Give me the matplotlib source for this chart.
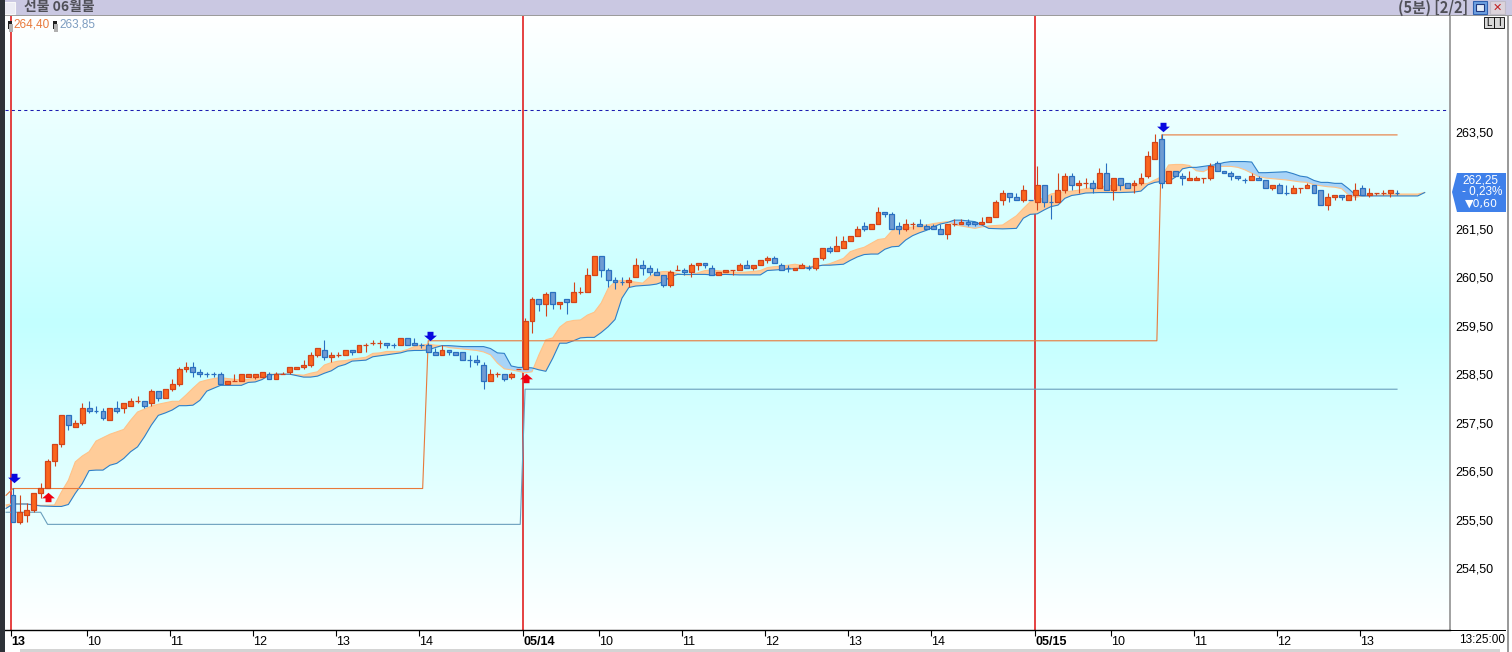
import numpy as np
import matplotlib
matplotlib.use("Agg")
import matplotlib.pyplot as plt
from matplotlib.colors import LinearSegmentedColormap
from matplotlib.patches import Polygon, Rectangle

# 5 minute candles, 05/13 open to 05/15 13:25
opens = [
    256.00, 255.45, 255.60, 255.70, 256.05, 256.15, 256.70, 257.05, 257.65, 257.40,
    257.50, 257.80, 257.75, 257.75, 257.55, 257.80, 257.80, 257.85, 257.95, 257.95,
    257.90, 258.15, 258.00, 258.20, 258.30, 258.60, 258.65, 258.55, 258.50, 258.50,
    258.50, 258.30, 258.35, 258.35, 258.45, 258.45, 258.45, 258.50, 258.40, 258.50,
    258.55, 258.60, 258.65, 258.70, 258.90, 259.00, 258.85, 258.90, 258.90, 259.00,
    258.95, 259.10, 259.15, 259.15, 259.15, 259.10, 259.10, 259.25, 259.15, 259.10,
    259.10, 258.95, 258.90, 259.00, 258.95, 258.95, 258.80, 258.80, 258.70, 258.35,
    258.50, 258.50, 258.45, 258.60, 258.60, 259.60, 260.05, 259.95, 260.20, 259.95,
    260.05, 260.00, 260.20, 260.20, 260.55, 260.95, 260.65, 260.45, 260.40, 260.40,
    260.50, 260.75, 260.70, 260.60, 260.55, 260.35, 260.65, 260.65, 260.60, 260.75,
    260.80, 260.70, 260.55, 260.60, 260.65, 260.65, 260.75, 260.70, 260.75, 260.85,
    260.90, 260.75, 260.70, 260.65, 260.70, 260.70, 260.70, 260.90, 261.10, 261.05,
    261.10, 261.25, 261.35, 261.55, 261.50, 261.60, 261.85, 261.80, 261.55, 261.50,
    261.60, 261.60, 261.55, 261.55, 261.50, 261.40, 261.60, 261.60, 261.65, 261.65,
    261.60, 261.65, 261.75, 262.10, 262.25, 262.15, 262.10, 262.10, 262.05, 262.40,
    262.05, 262.05, 262.30, 262.60, 262.40, 262.45, 262.45, 262.35, 262.65, 262.30,
    262.55, 262.45, 262.40, 262.45, 262.60, 262.95, 263.35, 262.45, 262.70, 262.60,
    262.50, 262.50, 262.55, 262.55, 262.85, 262.70, 262.65, 262.60, 262.50, 262.50,
    262.55, 262.50, 262.35, 262.40, 262.25, 262.25, 262.35, 262.35, 262.40, 262.30,
    262.00, 262.15, 262.20, 262.10, 262.20, 262.35, 262.20, 262.25, 262.25, 262.25,
    262.25,
]
highs = [
    256.15, 256.00, 255.85, 256.05, 256.25, 256.75, 257.05, 257.65, 257.65, 257.55,
    257.90, 257.95, 257.85, 257.80, 257.80, 257.95, 257.90, 258.00, 258.05, 257.95,
    258.20, 258.15, 258.20, 258.40, 258.65, 258.75, 258.75, 258.60, 258.55, 258.55,
    258.55, 258.35, 258.50, 258.50, 258.50, 258.50, 258.55, 258.55, 258.55, 258.55,
    258.65, 258.65, 258.80, 258.95, 259.05, 259.20, 258.95, 258.95, 259.00, 259.00,
    259.10, 259.15, 259.20, 259.20, 259.15, 259.15, 259.25, 259.25, 259.25, 259.15,
    259.15, 259.05, 259.10, 259.00, 258.95, 258.95, 258.90, 258.90, 258.75, 258.60,
    258.55, 258.50, 258.55, 258.60, 259.65, 260.10, 260.05, 260.20, 260.20, 260.00,
    260.05, 260.40, 260.30, 260.70, 260.95, 260.95, 260.70, 260.50, 260.50, 260.50,
    260.90, 260.85, 260.75, 260.70, 260.55, 260.65, 260.75, 260.70, 260.80, 260.80,
    260.80, 260.75, 260.60, 260.65, 260.65, 260.80, 260.85, 260.75, 260.85, 260.95,
    260.95, 260.80, 260.75, 260.70, 260.80, 260.75, 260.90, 261.10, 261.15, 261.35,
    261.35, 261.35, 261.55, 261.65, 261.60, 261.95, 261.85, 261.85, 261.65, 261.70,
    261.65, 261.70, 261.60, 261.60, 261.60, 261.60, 261.70, 261.70, 261.70, 261.65,
    261.75, 261.75, 262.10, 262.30, 262.25, 262.25, 262.40, 262.10, 262.80, 262.40,
    262.20, 262.65, 262.65, 262.65, 262.50, 262.55, 262.50, 262.75, 262.85, 262.55,
    262.55, 262.45, 262.50, 262.65, 263.10, 263.45, 263.45, 262.70, 262.70, 262.65,
    262.70, 262.60, 262.55, 262.85, 262.90, 262.70, 262.70, 262.60, 262.55, 262.65,
    262.60, 262.50, 262.40, 262.45, 262.40, 262.40, 262.35, 262.45, 262.40, 262.30,
    262.25, 262.20, 262.20, 262.20, 262.45, 262.40, 262.35, 262.25, 262.30, 262.30,
    262.30,
]
lows = [
    255.45, 255.40, 255.45, 255.65, 255.95, 256.15, 256.60, 257.00, 257.35, 257.40,
    257.45, 257.70, 257.70, 257.55, 257.55, 257.70, 257.70, 257.85, 257.90, 257.80,
    257.85, 257.95, 258.00, 258.15, 258.25, 258.55, 258.45, 258.45, 258.45, 258.45,
    258.30, 258.30, 258.35, 258.35, 258.45, 258.40, 258.45, 258.40, 258.40, 258.50,
    258.50, 258.60, 258.60, 258.65, 258.85, 258.80, 258.75, 258.85, 258.90, 258.90,
    258.95, 258.95, 259.10, 259.05, 259.05, 259.05, 259.10, 259.10, 259.10, 259.05,
    258.95, 258.90, 258.90, 258.90, 258.90, 258.80, 258.65, 258.70, 258.20, 258.35,
    258.45, 258.35, 258.40, 258.60, 258.60, 259.35, 259.80, 259.70, 259.85, 259.85,
    259.75, 260.00, 260.15, 260.20, 260.55, 260.50, 260.30, 260.25, 260.35, 260.30,
    260.50, 260.55, 260.55, 260.55, 260.30, 260.30, 260.65, 260.55, 260.50, 260.65,
    260.70, 260.55, 260.55, 260.60, 260.55, 260.65, 260.70, 260.65, 260.75, 260.80,
    260.80, 260.65, 260.60, 260.65, 260.70, 260.65, 260.65, 260.85, 261.00, 261.05,
    261.10, 261.25, 261.35, 261.45, 261.50, 261.60, 261.75, 261.50, 261.40, 261.45,
    261.50, 261.55, 261.50, 261.50, 261.40, 261.30, 261.55, 261.60, 261.55, 261.55,
    261.60, 261.65, 261.75, 262.00, 262.05, 262.10, 262.05, 262.10, 261.90, 261.95,
    261.70, 262.05, 262.25, 262.30, 262.25, 262.35, 262.25, 262.35, 262.30, 262.10,
    262.30, 262.35, 262.25, 262.40, 262.55, 262.95, 262.35, 262.45, 262.60, 262.40,
    262.50, 262.50, 262.45, 262.50, 262.70, 262.65, 262.50, 262.50, 262.45, 262.50,
    262.50, 262.35, 262.30, 262.25, 262.20, 262.25, 262.25, 262.35, 262.25, 262.00,
    261.90, 262.10, 262.10, 262.10, 262.10, 262.20, 262.15, 262.20, 262.20, 262.15,
    262.20,
]
closes = [
    255.45, 255.65, 255.70, 256.05, 256.15, 256.70, 257.05, 257.65, 257.45, 257.50,
    257.80, 257.75, 257.75, 257.60, 257.80, 257.75, 257.90, 257.95, 257.95, 257.85,
    258.15, 258.00, 258.20, 258.30, 258.60, 258.65, 258.55, 258.50, 258.50, 258.50,
    258.30, 258.35, 258.35, 258.50, 258.50, 258.50, 258.55, 258.40, 258.50, 258.50,
    258.65, 258.65, 258.70, 258.90, 259.05, 258.85, 258.90, 258.90, 259.00, 258.95,
    259.10, 259.10, 259.15, 259.15, 259.10, 259.10, 259.25, 259.10, 259.10, 259.10,
    258.95, 258.90, 259.00, 258.95, 258.90, 258.80, 258.80, 258.75, 258.35, 258.50,
    258.50, 258.40, 258.50, 258.60, 259.60, 260.05, 259.95, 260.15, 259.95, 260.00,
    260.00, 260.20, 260.20, 260.55, 260.95, 260.65, 260.45, 260.40, 260.40, 260.45,
    260.75, 260.70, 260.60, 260.55, 260.35, 260.60, 260.65, 260.60, 260.75, 260.80,
    260.75, 260.55, 260.60, 260.65, 260.65, 260.75, 260.70, 260.75, 260.85, 260.90,
    260.80, 260.65, 260.70, 260.70, 260.75, 260.70, 260.90, 261.10, 261.05, 261.15,
    261.25, 261.35, 261.50, 261.50, 261.60, 261.85, 261.80, 261.50, 261.50, 261.60,
    261.60, 261.55, 261.50, 261.50, 261.40, 261.60, 261.60, 261.65, 261.60, 261.60,
    261.65, 261.75, 262.05, 262.25, 262.15, 262.10, 262.30, 262.10, 262.40, 262.05,
    262.05, 262.30, 262.60, 262.40, 262.45, 262.45, 262.35, 262.65, 262.30, 262.55,
    262.40, 262.35, 262.45, 262.55, 263.00, 263.30, 262.45, 262.70, 262.60, 262.55,
    262.55, 262.55, 262.55, 262.80, 262.70, 262.65, 262.60, 262.55, 262.50, 262.60,
    262.50, 262.35, 262.40, 262.25, 262.25, 262.35, 262.35, 262.40, 262.25, 262.00,
    262.15, 262.20, 262.15, 262.20, 262.30, 262.20, 262.25, 262.25, 262.25, 262.30,
    262.25,
]
# candles with open == close that were painted blue
flat_down = [12, 28, 29, 55, 59, 66, 88, 112, 115, 147, 150, 178, 184, 200]

# cloud, read at its corners
cloud_idx = [
    -1, 0, 2, 4, 6, 7, 8, 9, 10, 11, 12, 13, 14, 15, 16, 17, 18, 19, 20, 21,
    22, 23, 24, 25, 26, 27, 28, 29, 30, 31, 33, 34, 35, 36, 37, 38, 40, 42, 43, 44,
    45, 46, 47, 48, 49, 50, 51, 52, 53, 54, 56, 57, 58, 59, 60, 61, 62, 63, 65, 67,
    68, 69, 70, 71, 72, 73, 74, 75, 76, 77, 78, 79, 80, 81, 82, 83, 84, 85, 86, 87,
    88, 89, 90, 91, 92, 93, 94, 95, 96, 97, 98, 100, 101, 103, 105, 107, 108, 109, 110, 111,
    113, 115, 117, 118, 120, 121, 122, 123, 124, 125, 126, 127, 128, 129, 130, 131, 132, 133, 134, 135,
    136, 137, 139, 140, 141, 143, 145, 146, 147, 148, 149, 150, 151, 152, 153, 154, 155, 157, 160, 162,
    163, 164, 165, 166, 167, 168, 169, 170, 171, 172, 173, 174, 175, 176, 177, 178, 179, 180, 181, 184,
    185, 186, 187, 188, 189, 190, 191, 192, 193, 194, 195, 196, 198, 200, 203, 204,
]
span_a = [
    255.80, 255.83, 255.82, 255.79, 255.80, 256.07, 256.31, 256.69, 256.81, 256.90,
    257.12, 257.19, 257.26, 257.31, 257.36, 257.55, 257.72, 257.78, 257.84, 257.88,
    257.91, 257.94, 257.94, 258.07, 258.21, 258.34, 258.38, 258.41, 258.43, 258.41,
    258.38, 258.39, 258.43, 258.45, 258.50, 258.50, 258.50, 258.48, 258.52, 258.55,
    258.69, 258.74, 258.77, 258.78, 258.81, 258.83, 258.85, 258.93, 258.94, 258.97,
    258.97, 259.01, 259.07, 259.10, 259.12, 259.10, 259.09, 259.05, 259.02, 258.99,
    258.96, 258.90, 258.73, 258.61, 258.59, 258.56, 258.53, 258.55, 258.90, 259.21,
    259.25, 259.47, 259.58, 259.61, 259.62, 259.72, 259.78, 259.97, 260.27, 260.41,
    260.44, 260.42, 260.40, 260.38, 260.51, 260.60, 260.62, 260.62, 260.58, 260.55,
    260.55, 260.64, 260.65, 260.62, 260.60, 260.62, 260.64, 260.70, 260.72, 260.73,
    260.77, 260.72, 260.75, 260.78, 260.89, 261.03, 261.08, 261.12, 261.20, 261.28,
    261.30, 261.46, 261.52, 261.52, 261.54, 261.57, 261.58, 261.61, 261.63, 261.65,
    261.59, 261.56, 261.51, 261.54, 261.56, 261.58, 261.77, 261.92, 262.06, 262.11,
    262.13, 262.22, 262.25, 262.27, 262.28, 262.30, 262.33, 262.37, 262.41, 262.41,
    262.43, 262.44, 262.51, 262.58, 262.82, 262.83, 262.83, 262.81, 262.70, 262.68,
    262.75, 262.79, 262.79, 262.79, 262.77, 262.72, 262.65, 262.58, 262.55, 262.51,
    262.49, 262.47, 262.46, 262.41, 262.39, 262.37, 262.36, 262.33, 262.20, 262.15,
    262.18, 262.19, 262.20, 262.22, 262.22, 262.25,
]
span_b = [
    255.73, 255.82, 255.82, 255.78, 255.77, 255.77, 255.81, 256.04, 256.24, 256.51,
    256.52, 256.52, 256.62, 256.66, 256.76, 256.90, 257.00, 257.21, 257.45, 257.65,
    257.70, 257.76, 257.85, 257.85, 257.86, 257.96, 258.15, 258.21, 258.27, 258.27,
    258.27, 258.33, 258.34, 258.39, 258.48, 258.50, 258.50, 258.44, 258.44, 258.46,
    258.52, 258.57, 258.66, 258.70, 258.77, 258.78, 258.79, 258.86, 258.88, 258.90,
    258.94, 258.98, 258.99, 258.99, 259.00, 259.05, 259.09, 259.09, 259.07, 259.07,
    259.07, 259.03, 258.94, 258.93, 258.67, 258.64, 258.64, 258.63, 258.59, 258.56,
    258.83, 259.14, 259.14, 259.19, 259.25, 259.26, 259.26, 259.36, 259.48, 259.63,
    260.07, 260.29, 260.32, 260.33, 260.34, 260.36, 260.41, 260.51, 260.56, 260.56,
    260.56, 260.56, 260.55, 260.56, 260.55, 260.55, 260.55, 260.64, 260.65, 260.66,
    260.68, 260.70, 260.75, 260.75, 260.77, 260.85, 260.92, 260.97, 260.98, 260.98,
    261.08, 261.13, 261.14, 261.27, 261.36, 261.42, 261.47, 261.54, 261.60, 261.63,
    261.68, 261.68, 261.65, 261.58, 261.51, 261.50, 261.51, 261.72, 261.80, 261.81,
    261.89, 261.96, 261.99, 262.13, 262.19, 262.21, 262.24, 262.25, 262.25, 262.26,
    262.28, 262.41, 262.46, 262.48, 262.48, 262.57, 262.74, 262.77, 262.77, 262.79,
    262.81, 262.83, 262.87, 262.89, 262.89, 262.89, 262.88, 262.66, 262.66, 262.68,
    262.64, 262.59, 262.57, 262.50, 262.46, 262.46, 262.44, 262.44, 262.33, 262.20,
    262.18, 262.18, 262.18, 262.18, 262.18, 262.25,
]

# stop lines
resist_idx = [-1, 0, 59.2, 60, 165.3, 166, 200]
resist_val = [256.00, 256.14, 256.14, 259.19, 259.19, 263.44, 263.44]
support_idx = [-1, 4, 5, 73.3, 74, 200]
support_val = [255.65, 255.65, 255.40, 255.40, 258.19, 258.19]

sell_idx = [0.15, 60.2, 166.2]
sell_val = [256.36, 259.29, 263.60]
buy_idx = [5.1, 74.15]
buy_val = [255.96, 258.42]

session_idx = [0, 74, 148]
tick_idx = [0, 11, 23, 35, 47, 59, 74, 85, 97, 109, 121, 133, 148, 159, 171, 183, 195]
tick_lab = ["13", "10", "11", "12", "13", "14", "05/14", "10", "11", "12", "13", "14",
            "05/15", "10", "11", "12", "13"]
# 262,50 sits behind the price badge
price_ticks = [254.5, 255.5, 256.5, 257.5, 258.5, 259.5, 260.5, 261.5, 263.5]
prev_close_line = 263.95

W, H = 1512, 652
# plot area in pixels, x = 13 + 6.92 * candle, 48.44 px per point with 263,50 at y 132
px_left, px_right, px_top, px_bottom = 5, 1450, 16, 630
fig = plt.figure(figsize=(W / 100, H / 100), dpi=100, facecolor="white")
ax = fig.add_axes([px_left / W, 1 - px_bottom / H, (px_right - px_left) / W, (px_bottom - px_top) / H])

# background fade
fade = LinearSegmentedColormap.from_list("fade", ["#ffffff", "#c3ffff", "#ffffff"])
ax.imshow(np.linspace(0, 1, 256).reshape(-1, 1), cmap=fade, aspect="auto",
          extent=(0, 1, 0, 1), transform=ax.transAxes, zorder=0)
ax.set_xlim((px_left - 13) / 6.92, (px_right - 13) / 6.92)
ax.set_ylim(263.5 - (px_bottom - 132) / 48.44, 263.5 + (132 - px_top) / 48.44)

ax.plot([ax.get_xlim()[0], (1447 - 13) / 6.92], [prev_close_line] * 2, color="#1c1cb0", lw=0.75,
        ls=(0, (3, 3)), zorder=1)
for s in session_idx:
    ax.axvline(s - 0.3, color="#e01818", lw=1.15, zorder=1)

# cloud
cx = np.array(cloud_idx, dtype=float)
a = np.array(span_a)
b = np.array(span_b)
ax.fill_between(cx, a, b, where=a >= b, interpolate=True, color="#ffcc99", lw=0, zorder=2)
ax.fill_between(cx, a, b, where=a < b, interpolate=True, color="#a8d4f8", lw=0, zorder=2)
ax.plot(cx, a, color="#ffc288", lw=0.8, zorder=3)
ax.plot(cx, b, color="#2f80c8", lw=0.8, zorder=3)

ax.plot(resist_idx, resist_val, color="#e8793a", lw=0.8, zorder=3)
ax.plot(support_idx, support_val, color="#6a9fbd", lw=0.8, zorder=3)

# candles
x = np.arange(len(opens))
o = np.array(opens)
c = np.array(closes)
up = (c >= o) & ~np.isin(x, flat_down)
edge = np.where(up, "#d2441a", "#2a70c0")
fill = np.where(up, "#fa661e", "#6f9bd2")
ax.vlines(x, lows, highs, colors=edge, lw=0.8, zorder=4)
ax.bar(x, np.abs(c - o), width=0.7, bottom=np.minimum(o, c), color=fill, edgecolor=edge,
       linewidth=0.9, zorder=5)

# signal arrows
arrow = [(-0.35, 0.1), (-0.35, 0.55), (-0.75, 0.55), (0, 1.2), (0.75, 0.55), (0.35, 0.55), (0.35, 0.1)]
arrow = [(u, v - 0.65) for u, v in arrow]
arrow_down = [(u, -v) for u, v in arrow]
ax.scatter(buy_idx, buy_val, marker=arrow, s=85, color="#f00010", lw=0, zorder=6)
ax.scatter(sell_idx, sell_val, marker=arrow_down, s=85, color="#0808e0", lw=0, zorder=6)

# axes
for side in ("top", "left"):
    ax.spines[side].set_visible(False)
ax.spines["right"].set_color("#9a9a9a")
ax.spines["right"].set_linewidth(1.3)
ax.spines["bottom"].set_color("black")
ax.spines["bottom"].set_linewidth(1.0)
ax.set_xticks(np.array(tick_idx) - 0.3)
ax.set_xticklabels(tick_lab)
for n, (lab, name) in enumerate(zip(ax.get_xticklabels(), tick_lab)):
    lab.set_ha("left")
    lab.set_fontfamily("Liberation Sans")
    lab.set_fontsize(9)
    if n == 0 or "/" in name:
        lab.set_fontweight("bold")
ax.tick_params(axis="x", length=4, width=0.8, color="black", pad=0)
ax.yaxis.tick_right()
ax.set_yticks(price_ticks)
ax.set_yticklabels([f"{p:.2f}".replace(".", ",") for p in price_ticks],
                   fontfamily="Liberation Sans", fontsize=9)
ax.tick_params(axis="y", length=0, pad=4)

# window furniture, in pixels
ui = fig.add_axes([0, 0, 1, 1], zorder=10)
ui.set_xlim(0, W)
ui.set_ylim(H, 0)
ui.axis("off")
ui.patch.set_alpha(0)
kr = ["Noto Sans CJK KR", "DejaVu Sans"]
ui.add_patch(Rectangle((0, 0), W, 15, color="#cac8e2", lw=0))
ui.add_patch(Rectangle((0, 15), W, 1, color="#9c9c9c", lw=0))
ui.add_patch(Rectangle((3, 2), 12, 12, facecolor="#ececf4", edgecolor="#f8f8f8", lw=0.8))
ui.text(24, 7.5, "선물 06월물", family=kr, fontsize=10, color="#505058", va="center", fontweight="bold")
ui.text(1468, 7.5, "(5분) [2/2]", family=kr, fontsize=10.5, color="#505058", va="center", ha="right", fontweight="bold")
ui.add_patch(Rectangle((1473, 1), 14, 13, facecolor="#6ea0e0", edgecolor="#3060b0", lw=0.8))
ui.add_patch(Rectangle((1476, 4), 8, 7, facecolor="#e4ecf8", edgecolor="#203880", lw=0.8))
ui.add_patch(Rectangle((1490, 1), 15, 13, facecolor="#dcd4dc", edgecolor="#c0bcc8", lw=0.8))
ui.text(1497.5, 7.5, "✕", family=["DejaVu Sans"], fontsize=8, color="#c02020", ha="center", va="center", fontweight="bold")
ui.add_patch(Rectangle((1484, 17), 10, 11, facecolor="#d8d8d8", edgecolor="black", lw=0.6))
ui.add_patch(Rectangle((1494, 17), 10, 11, facecolor="#d8d8d8", edgecolor="black", lw=0.6))
ui.text(1489, 22.5, "L", fontsize=7, family="Liberation Sans", ha="center", va="center")
ui.text(1499, 22.5, "I", fontsize=7, family="Liberation Sans", ha="center", va="center")

ui.add_patch(Rectangle((0, 0), 4.5, 652, color="#2e3238", lw=0))
ui.add_patch(Rectangle((1507, 16), 2, 636, color="#9a9a9a", lw=0))
ui.add_patch(Rectangle((1450, 630), 56, 1, color="black", lw=0))
ui.add_patch(Rectangle((8, 21), 4, 8, color="#202020", lw=0))
ui.add_patch(Rectangle((9, 24), 4, 8, color="#b0b0b0", lw=0))
ui.add_patch(Rectangle((53, 21), 4, 8, color="#202020", lw=0))
ui.add_patch(Rectangle((54, 24), 4, 8, color="#b0b0b0", lw=0))
ui.text(13, 24.5, "264,40", family="Liberation Sans", fontsize=8.5, color="#e87a3c", va="center")
ui.text(59, 24.5, "263,85", family="Liberation Sans", fontsize=8.5, color="#7c9cc0", va="center")

# current price badge
ui.add_patch(Polygon([(1452, 192), (1457, 173), (1506, 173), (1506, 212), (1457, 212)],
                     closed=True, color="#3f80ea", lw=0))
ui.text(1480, 180.5, "262,25", family="Liberation Sans", fontsize=8.5, color="white", ha="center", va="center")
ui.text(1482, 192, "- 0,23%", family="Liberation Sans", fontsize=8.5, color="white", ha="center", va="center")
ui.text(1481, 204, "▼0,60", family="DejaVu Sans", fontsize=8, color="white", ha="center", va="center")

ui.text(1505, 640, "13:25:00", family="Liberation Sans", fontsize=8.5, color="black", ha="right", va="center")
ui.add_patch(Rectangle((20, 649), 1480, 3, color="#d4d4d4", lw=0))

fig.savefig("out.png", dpi=100)
